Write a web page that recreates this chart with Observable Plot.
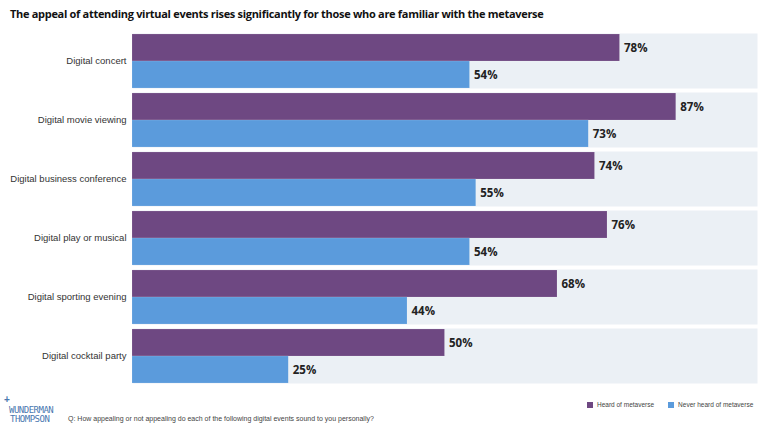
<!DOCTYPE html>
<html><head><meta charset="utf-8">
<script src="https://cdn.jsdelivr.net/npm/d3@7"></script>
<script src="https://cdn.jsdelivr.net/npm/@observablehq/plot@0.6"></script>
<style>
body{margin:0;width:768px;height:428px;background:#fff;position:relative;overflow:hidden;font-family:"Liberation Sans",Arial,sans-serif;}
#title{position:absolute;left:10px;top:6px;font-family:"Open Sans",sans-serif;font-weight:700;font-size:11px;letter-spacing:-0.3px;color:#111;white-space:nowrap;}
#chart{position:absolute;left:0;top:26px;}
.abs{position:absolute;white-space:nowrap;}
</style></head><body>
<div id="title">The appeal of attending virtual events rises significantly for those who are familiar with the metaverse</div>
<div id="chart"></div>
<div class="abs" style="left:4px;top:394px;color:#4a78b0;font-size:10px;font-weight:700;">+</div>
<div class="abs" style="left:9px;top:405px;color:#4a78b0;font-family:'DejaVu Sans Mono',monospace;font-size:9px;letter-spacing:-0.5px;">WUNDERMAN</div>
<div class="abs" style="left:10px;top:414px;color:#4a78b0;font-family:'DejaVu Sans Mono',monospace;font-size:9px;letter-spacing:-0.5px;">THOMPSON</div>
<div class="abs" style="left:68px;top:415px;color:#444;font-size:7px;">Q: How appealing or not appealing do each of the following digital events sound to you personally?</div>
<div id="legend" class="abs" style="left:587px;top:401px;font-size:6.5px;color:#444;"></div>
<script>
const categories = ["Digital concert","Digital movie viewing","Digital business conference","Digital play or musical","Digital sporting evening","Digital cocktail party"];
const seriesNames = ["Heard of metaverse","Never heard of metaverse"];
const heardValues = [78,87,74,76,68,50];
const neverValues = [54,73,55,54,44,25];
const seriesColors = ["#6e4882","#5b9bdc"];

const data = [];
categories.forEach((c,i)=>{
  data.push({event:c, series:seriesNames[0], value:heardValues[i]});
  data.push({event:c, series:seriesNames[1], value:neverValues[i]});
});

const chart = Plot.plot({
  width:768, height:364,
  marginLeft:132, marginRight:11, marginTop:6, marginBottom:6,
  style:{fontFamily:"'Liberation Sans',Arial,sans-serif", fontSize:"9.5px", color:"#333", background:"transparent"},
  facet:{data, y:"event"},
  fy:{domain:categories, paddingInner:0.074, paddingOuter:0, axis:"left", tickSize:0, tickPadding:6, label:null},
  x:{domain:[0,100], axis:null},
  y:{domain:seriesNames, padding:0, axis:null},
  color:{domain:seriesNames, range:seriesColors},
  marks:[
    Plot.frame({fill:"#ebf0f5", stroke:null}),
    Plot.barX(data,{x:"value", y:"series", fill:"series", stroke:"#ffffff", strokeOpacity:0.25, strokeWidth:0.5}),
    Plot.text(data,{x:"value", y:"series", text:d=>d.value+"%", textAnchor:"start", dx:4, fontWeight:"bold", fontSize:11.5, fill:"#222", fontFamily:"'Open Sans',sans-serif"})
  ]
});
document.getElementById("chart").appendChild(chart);

const lg = document.getElementById("legend");
seriesNames.forEach((s,i)=>{
  const sp = document.createElement("span");
  sp.style.marginRight = i===0 ? "14px" : "0";
  sp.innerHTML = `<span style="display:inline-block;width:6px;height:6px;background:${seriesColors[i]};margin-right:4px;vertical-align:-1px"></span>${s}`;
  lg.appendChild(sp);
});
</script>
</body></html>
